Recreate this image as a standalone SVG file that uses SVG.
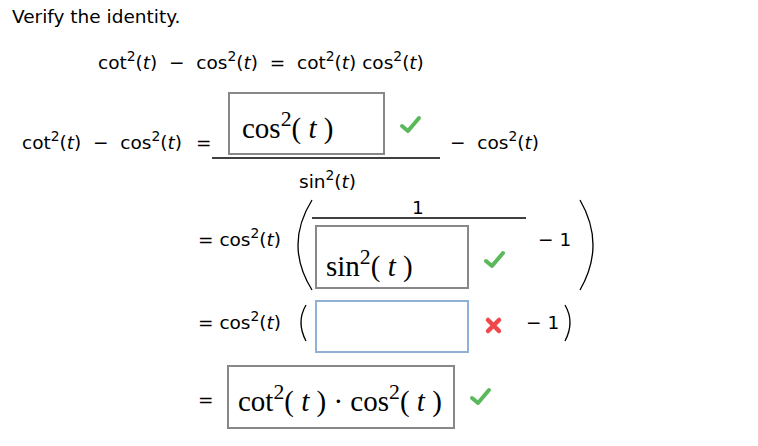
<svg xmlns="http://www.w3.org/2000/svg" width="758" height="446" viewBox="0 0 758 446">
<style>
.s{font-family:"DejaVu Sans",Verdana,sans-serif;font-size:18.5px;fill:#000}
.m{font-family:"Liberation Serif","Times New Roman",serif;font-size:29px;fill:#000}
.sup{font-size:0.75em}
.box{fill:#fff;stroke:#888;stroke-width:2}
.ck{fill:none;stroke:#5cb85c;stroke-width:4;stroke-linecap:round;stroke-linejoin:round}
.par{fill:none;stroke:#000;stroke-width:1.3}
</style>
<rect width="758" height="446" fill="#fff"/>
<text class="s" x="12" y="23">Verify the identity.</text>
<text class="s" x="98" y="69" xml:space="preserve">cot<tspan class="sup" dy="-8">2</tspan><tspan dy="8">(</tspan><tspan font-style="italic">t</tspan>)  −  cos<tspan class="sup" dy="-8">2</tspan><tspan dy="8">(</tspan><tspan font-style="italic">t</tspan>)  =  cot<tspan class="sup" dy="-8">2</tspan><tspan dy="8">(</tspan><tspan font-style="italic">t</tspan>) cos<tspan class="sup" dy="-8">2</tspan><tspan dy="8">(</tspan><tspan font-style="italic">t</tspan>)</text>

<g id="row1">
<text class="s" x="22" y="149" xml:space="preserve">cot<tspan class="sup" dy="-8">2</tspan><tspan dy="8">(</tspan><tspan font-style="italic">t</tspan>)  −  cos<tspan class="sup" dy="-8">2</tspan><tspan dy="8">(</tspan><tspan font-style="italic">t</tspan>)</text>
<text class="s" x="196" y="149">=</text>
<rect class="box" x="229" y="93" width="155" height="61"/>
<text class="m" x="242" y="138" xml:space="preserve">cos<tspan class="sup" dy="-12">2</tspan><tspan dy="12">( </tspan><tspan font-style="italic">t</tspan> )</text>
<path class="ck" d="M402 126 L408 131 L419 118"/>
<line x1="212" y1="158" x2="440" y2="158" stroke="#000" stroke-width="1.5"/>
<text class="s" x="299" y="188">sin<tspan class="sup" dy="-8">2</tspan><tspan dy="8">(</tspan><tspan font-style="italic">t</tspan>)</text>
<text class="s" x="450" y="149" xml:space="preserve">−  cos<tspan class="sup" dy="-8">2</tspan><tspan dy="8">(</tspan><tspan font-style="italic">t</tspan>)</text>
</g>

<g id="row2">
<text class="s" x="198" y="246" xml:space="preserve">= cos<tspan class="sup" dy="-8">2</tspan><tspan dy="8">(</tspan><tspan font-style="italic">t</tspan>)</text>
<path class="par" d="M312 200 Q284 245 312 290"/>
<text class="s" x="412" y="214">1</text>
<line x1="312" y1="218" x2="526" y2="218" stroke="#000" stroke-width="1.5"/>
<rect class="box" x="316" y="226" width="152" height="62"/>
<text class="m" x="326" y="276" xml:space="preserve">sin<tspan class="sup" dy="-12">2</tspan><tspan dy="12">( </tspan><tspan font-style="italic">t</tspan> )</text>
<path class="ck" d="M486 261 L492 266 L503 253"/>
<text class="s" x="538" y="246">− 1</text>
<path class="par" d="M580 200 Q606 245 580 290"/>
</g>

<g id="row3">
<text class="s" x="198" y="329" xml:space="preserve">= cos<tspan class="sup" dy="-8">2</tspan><tspan dy="8">(</tspan><tspan font-style="italic">t</tspan>)</text>
<path class="par" d="M306 305 Q296 322 306 341"/>
<rect x="316" y="301" width="152" height="51" fill="#fff" stroke="#8fb1d6" stroke-width="2"/>
<path d="M488 320 L499 331 M499 320 L488 331" stroke="#f0474a" stroke-width="4.5" stroke-linecap="round"/>
<text class="s" x="526" y="329">− 1</text>
<path class="par" d="M565 305 Q575 322 565 341"/>
</g>

<g id="row4">
<text class="s" x="198" y="406">=</text>
<rect class="box" x="228" y="366" width="226" height="62"/>
<text class="m" x="238" y="411" xml:space="preserve">cot<tspan class="sup" dy="-12">2</tspan><tspan dy="12">( </tspan><tspan font-style="italic">t</tspan> ) · cos<tspan class="sup" dy="-12">2</tspan><tspan dy="12">( </tspan><tspan font-style="italic">t</tspan> )</text>
<path class="ck" d="M472 398 L478 403 L489 390"/>
</g>
</svg>
